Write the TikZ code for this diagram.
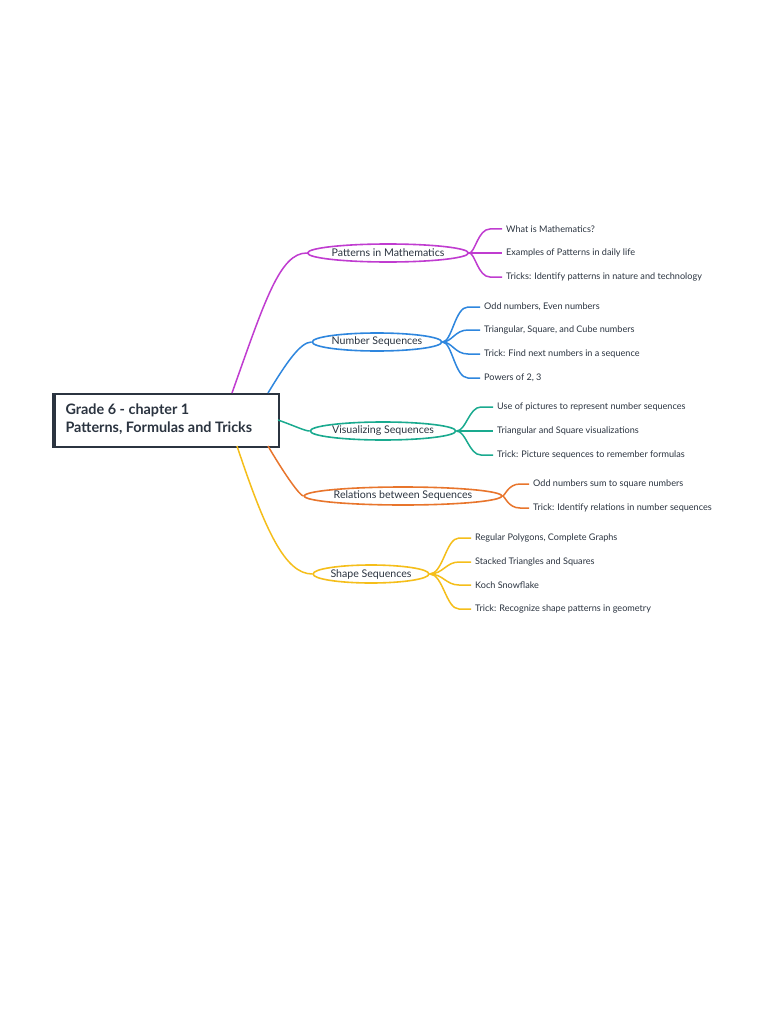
\documentclass[tikz,border=0pt]{standalone}
\usepackage{fontspec}
\setmainfont{Lato}
\usetikzlibrary{shapes.geometric}
\definecolor{cM}{HTML}{C03CD0}
\definecolor{cB}{HTML}{2E86DE}
\definecolor{cT}{HTML}{1AAA8F}
\definecolor{cO}{HTML}{E8752C}
\definecolor{cY}{HTML}{F5BE1A}
\definecolor{ink}{HTML}{2B3440}
\tikzset{
 br/.style={ellipse,draw=#1,line width=1.6pt,inner sep=0.5pt,minimum height=18pt,font=\fontsize{10.6}{12}\selectfont,text=ink},
 lf/.style={anchor=west,inner sep=0pt,font=\fontsize{9.1}{10}\selectfont,text=ink},
 con/.style={draw=#1,line width=1.5pt},
}
\begin{document}
\begin{tikzpicture}[x=1pt,y=-1pt]
\useasboundingbox (0,0) rectangle (768,1024);
\fill[white] (0,0) rectangle (768,1024);
% root
\node[draw=ink,line width=1.6pt,fill=white,minimum width=226pt,minimum height=53pt,anchor=north west,inner sep=0pt] (root) at (52,393) {};
\draw[ink,line width=2pt] (55,393) -- (55,446);
\node[anchor=west,align=left,font=\bfseries\fontsize{14.4}{18}\selectfont,text=ink] (rt) at (62,419) {Grade 6 - chapter 1\\Patterns, Formulas and Tricks};
% branches
\node[br=cM] (b1) at (388,253) {Patterns in Mathematics};
\node[br=cB] (b2) at (377,342) {Number Sequences};
\node[br=cT] (b3) at (383,431) {Visualizing Sequences};
\node[br=cO] (b4) at (403,496) {Relations between Sequences};
\node[br=cY] (b5) at (371,574) {Shape Sequences};
\coordinate (r1) at (232,393);
\coordinate (r2) at (268,393);
\coordinate (r3) at (278,420);
\coordinate (r4) at (268,446);
\coordinate (r5) at (237,446);
\draw[con=cM] (r1) .. controls (265,300) and (280,253) .. (b1.west);
\draw[con=cB] (r2) .. controls (285,365) and (300,342) .. (b2.west);
\draw[con=cT] (r3) .. controls (295,426) and (305,431) .. (b3.west);
\draw[con=cO] (r4) .. controls (285,475) and (300,496) .. (b4.west);
\draw[con=cY] (r5) .. controls (265,530) and (285,574) .. (b5.west);
% leaves
\foreach \t/\y [count=\i] in {What is Mathematics?/229,Examples of Patterns in daily life/253,Tricks: Identify patterns in nature and technology/277}{
 \node[lf] (m\i) at (506,\y) {\t};
 \draw[con=cM] (b1.east) .. controls (475,253) and (478,\y) .. (490,\y) -- ([xshift=-4pt]m\i.west);}
\foreach \t/\y [count=\i] in {{Odd numbers, Even numbers}/307,{Triangular, Square, and Cube numbers}/330,Trick: Find next numbers in a sequence/354,{Powers of 2, 3}/378}{
 \node[lf] (n\i) at (484,\y) {\t};
 \draw[con=cB] (b2.east) .. controls (452,342) and (455,\y) .. (468,\y) -- ([xshift=-4pt]n\i.west);}
\foreach \t/\y [count=\i] in {Use of pictures to represent number sequences/407,Triangular and Square visualizations/431,Trick: Picture sequences to remember formulas/455}{
 \node[lf] (v\i) at (497,\y) {\t};
 \draw[con=cT] (b3.east) .. controls (466,431) and (469,\y) .. (481,\y) -- ([xshift=-4pt]v\i.west);}
\foreach \t/\y [count=\i] in {Odd numbers sum to square numbers/484,Trick: Identify relations in number sequences/508}{
 \node[lf] (o\i) at (533,\y) {\t};
 \draw[con=cO] (b4.east) .. controls (505,496) and (508,\y) .. (520,\y) -- ([xshift=-4pt]o\i.west);}
\foreach \t/\y [count=\i] in {{Regular Polygons, Complete Graphs}/538,Stacked Triangles and Squares/562,Koch Snowflake/585,Trick: Recognize shape patterns in geometry/609}{
 \node[lf] (s\i) at (475,\y) {\t};
 \draw[con=cY] (b5.east) .. controls (443,574) and (446,\y) .. (459,\y) -- ([xshift=-4pt]s\i.west);}
\end{tikzpicture}
\end{document}
